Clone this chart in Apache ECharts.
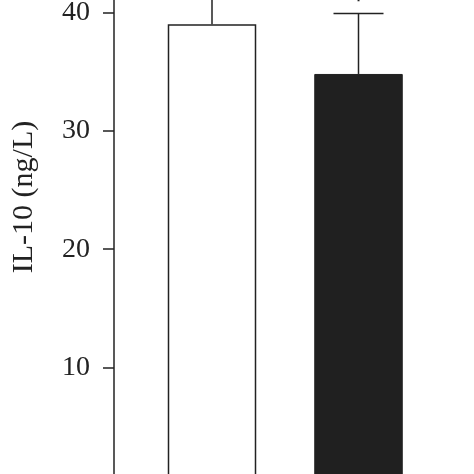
<!DOCTYPE html>
<html>
<head>
<meta charset="utf-8">
<script src="https://cdn.jsdelivr.net/npm/echarts@6/dist/echarts.min.js"></script>
<style>
html,body{margin:0;padding:0;width:474px;height:474px;overflow:hidden;background:#fff;}
#c{position:absolute;left:0;top:-120px;width:474px;height:620px;}
</style>
</head>
<body>
<div id="c"></div>
<script>
var categories = ['Control', 'Treatment'];
var means = [39.0, 34.8];
var errors = [4.5, 5.1];
var marks = ['', '*'];
var yTicks = [0, 10, 20, 30, 40, 50];
var yTitle = 'IL-10 (ng/L)';

var FONT = '"Liberation Serif", "DejaVu Serif", serif';
var INK = '#222222';

var chart = echarts.init(document.getElementById('c'), null, {renderer: 'canvas'});
chart.setOption({
  animation: false,
  backgroundColor: '#ffffff',
  grid: {left: 138.75, width: 293, top: 12.3, height: 598.5, containLabel: false},
  xAxis: {
    type: 'category',
    data: categories,
    axisLine: {show: false},
    axisTick: {show: false},
    axisLabel: {show: false},
    splitLine: {show: false}
  },
  yAxis: {
    type: 'value',
    min: yTicks[0],
    max: yTicks[yTicks.length - 1],
    interval: 10,
    offset: 24.75,
    name: yTitle,
    nameLocation: 'middle',
    nameGap: 75,
    nameTextStyle: {fontFamily: FONT, fontSize: 30, color: INK, padding: [0, 14, 0, 0]},
    axisLine: {show: true, lineStyle: {color: INK, width: 1.5}},
    axisTick: {show: true, inside: false, length: 11, lineStyle: {color: INK, width: 1.5}},
    axisLabel: {margin: 24, fontFamily: FONT, fontSize: 28, color: INK},
    splitLine: {show: false}
  },
  series: [
    {
      type: 'bar',
      barWidth: 88.5,
      data: means.map(function (v, i) {
        return {
          value: v,
          itemStyle: i === 0
            ? {color: '#ffffff', borderColor: INK, borderWidth: 1.5}
            : {color: '#202020', borderColor: '#202020', borderWidth: 1}
        };
      }),
      z: 2
    },
    {
      type: 'custom',
      z: 3,
      clip: false,
      data: means.map(function (v, i) { return [i, v, errors[i]]; }),
      renderItem: function (params, api) {
        var i = api.value(0);
        var m = api.value(1);
        var e = api.value(2);
        var p0 = api.coord([i, m]);
        var p1 = api.coord([i, m + e]);
        var half = 25;
        var children = [
          {type: 'line', shape: {x1: p0[0], y1: p0[1], x2: p1[0], y2: p1[1]},
           style: {stroke: INK, lineWidth: 1.5}},
          {type: 'line', shape: {x1: p1[0] - half, y1: p1[1], x2: p1[0] + half, y2: p1[1]},
           style: {stroke: INK, lineWidth: 1.5}}
        ];
        if (marks[params.dataIndex]) {
          children.push({type: 'text', x: p1[0], y: p1[1] + 2,
            style: {text: marks[params.dataIndex], font: '28px ' + FONT, fill: INK,
                    align: 'center', verticalAlign: 'bottom'}});
        }
        return {type: 'group', children: children};
      }
    }
  ]
});
</script>
</body>
</html>
